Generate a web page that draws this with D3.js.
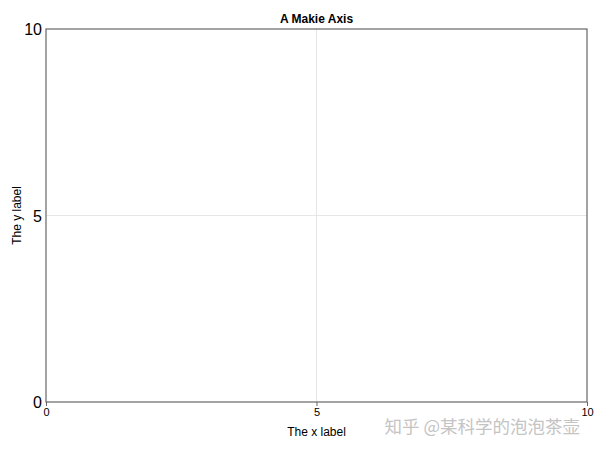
<!DOCTYPE html>
<meta charset="utf-8">
<style>
body{margin:0;background:#fff;}
text{font-family:"Liberation Sans",Arial,sans-serif;fill:#000;}
.title{font-weight:bold;font-size:12px;text-anchor:middle;}
.grid line{stroke:#e6e6e6;stroke-width:1;}
.mark{font-family:"Noto Sans CJK SC",sans-serif;font-size:17.5px;fill:#c4c4c4;}
</style>
<body>
<script src="https://cdn.jsdelivr.net/npm/d3@7"></script>
<script>
var xDomain=[0,10], yDomain=[0,10];
var xTicks=[0,5,10], yTicks=[0,5,10];
var title="A Makie Axis", xLabel="The x label", yLabel="The y label";
var watermark="知乎 @某科学的泡泡茶壶";

var W=600,H=450, m={l:46,r:13,t:29,b:48};
var svg=d3.select("body").append("svg").attr("width",W).attr("height",H);

var x=d3.scaleLinear().domain(xDomain).range([m.l,W-m.r]);
var y=d3.scaleLinear().domain(yDomain).range([H-m.b,m.t]);

// grid
var g=svg.append("g").attr("class","grid");
g.selectAll(".gx").data(xTicks.slice(1,-1)).enter().append("line")
	.attr("x1",d=>x(d)).attr("x2",d=>x(d)).attr("y1",y(yDomain[0])).attr("y2",y(yDomain[1]));
g.selectAll(".gy").data(yTicks.slice(1,-1)).enter().append("line")
	.attr("y1",d=>y(d)).attr("y2",d=>y(d)).attr("x1",x(xDomain[0])).attr("x2",x(xDomain[1]));

// frame
svg.append("rect").attr("x",x(0)).attr("y",y(10)).attr("width",x(10)-x(0)).attr("height",y(0)-y(10))
	.attr("fill","none").attr("stroke","#666").attr("stroke-width",1.2);

var xa=svg.append("g").attr("transform","translate(0,"+y(0)+")")
	.call(d3.axisBottom(x).tickValues(xTicks).tickSize(4).tickPadding(2).tickFormat(d3.format("d")));
xa.select(".domain").remove();
xa.selectAll("line").attr("stroke","#666");
xa.selectAll("text").style("font-size","11px");

var ya=svg.append("g").attr("transform","translate("+x(0)+",0)")
	.call(d3.axisLeft(y).tickValues(yTicks).tickSize(0).tickPadding(4).tickFormat(d3.format("d")));
ya.select(".domain").remove();
ya.selectAll("text").style("font-size","16px").attr("dy","0.35em");

svg.append("text").attr("class","title").attr("x",(x(0)+x(10))/2).attr("y",23).text(title);
svg.append("text").attr("x",(x(0)+x(10))/2).attr("y",436).attr("text-anchor","middle")
	.style("font-size","12px").text(xLabel);
svg.append("text").attr("transform","translate(21,"+((y(0)+y(10))/2)+") rotate(-90)")
	.attr("text-anchor","middle").style("font-size","12px").text(yLabel);

svg.append("text").attr("class","mark").attr("x",580).attr("y",433).attr("text-anchor","end").text(watermark);
</script>
</body>
